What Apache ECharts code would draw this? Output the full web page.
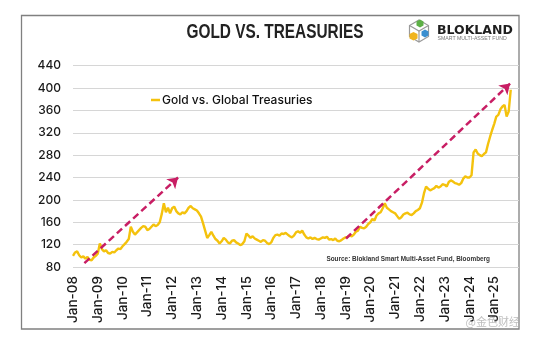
<!DOCTYPE html>
<html><head><meta charset="utf-8">
<script src="https://cdn.jsdelivr.net/npm/echarts@6/dist/echarts.min.js"></script>
<style>html,body{margin:0;padding:0;background:#fff}#c{width:533px;height:339px}</style>
</head><body><div id="c"></div>
<script>
const startYear = 2008;
const yearLabels = ['Jan-08','Jan-09','Jan-10','Jan-11','Jan-12','Jan-13','Jan-14','Jan-15','Jan-16','Jan-17','Jan-18','Jan-19','Jan-20','Jan-21','Jan-22','Jan-23','Jan-24','Jan-25'];
const yTicks = [80,120,160,200,240,280,320,360,400,440];
const seriesName = 'Gold vs. Global Treasuries';
// monthly values, Jan-2008 .. Sep-2025
const goldVsTreasuries = [
  100,106,108,101,97,99,95,98,93,92,97,100,
  104,122,112,108,110,105,104,107,106,110,113,112,
  117,121,125,130,152,143,138,142,146,150,153,152,
  146,148,152,156,153,155,160,175,194,178,186,176,
  185,188,180,176,174,178,176,180,186,189,185,183,
  181,176,170,158,145,132,137,143,136,130,127,122,
  126,132,129,124,122,127,128,124,122,119,121,126,
  140,136,132,135,131,129,127,125,128,127,123,121,
  124,132,137,138,136,140,139,141,138,135,133,136,
  142,144,141,145,138,133,131,133,130,132,130,129,
  131,133,132,134,129,130,128,131,127,126,128,131,
  133,134,136,135,138,143,145,152,150,149,152,157,
  160,166,163,172,176,178,185,194,186,183,180,178,
  176,171,166,169,174,176,177,174,173,176,180,182,
  185,195,212,224,220,217,219,221,225,222,224,228,
  227,224,232,235,233,230,229,227,230,238,242,240,
  240,244,285,290,283,280,278,282,285,300,313,325,
  336,349,352,362,367,370,349,358,397
];
const arrowStarts = [[2008.46, 87], [2019.02, 131]];
const arrowEnds = [[2012.24, 240], [2025.64, 408]];

const chart = echarts.init(document.getElementById('c'), null, {renderer:'canvas'});
const FONT = 'Inter';
chart.setOption({
  animation:false,
  backgroundColor:'#fff',
  grid:{left:73, right:14, top:65.7, bottom:72, containLabel:false},
  legend:{
    data:[seriesName], left:146, top:89, icon:'rect', itemWidth:9, itemHeight:2.5,
    textStyle:{fontFamily:FONT, fontSize:12, fontWeight:500, color:'#111', padding:[0,0,0,-3]}
  },
  xAxis:{
    type:'value', min:startYear, max:startYear+18, interval:1,
    axisLine:{show:false}, axisTick:{show:false}, splitLine:{show:false},
    axisLabel:{rotate:90, margin:9, fontFamily:FONT, fontSize:13.5, fontWeight:500, color:'#1a1a1a',
      showMaxLabel:false,
      formatter:v => yearLabels[Math.round(v - startYear)] || ''}
  },
  yAxis:{
    type:'value', min:yTicks[0], max:yTicks[yTicks.length-1], interval:40,
    axisLine:{show:false}, axisTick:{show:false},
    splitLine:{lineStyle:{color:'#d6d6d6', width:1}},
    axisLabel:{margin:12, fontFamily:FONT, fontSize:12, fontWeight:500, color:'#1a1a1a'}
  },
  series:[
    {
      name:seriesName, type:'line', showSymbol:false, symbol:'none', z:2,
      lineStyle:{color:'#F4C20D', width:2.4}, itemStyle:{color:'#F4C20D'},
      data: goldVsTreasuries.map((v,i)=>[startYear + i/12, v])
    },
    {
      type:'lines', coordinateSystem:'cartesian2d', silent:true, z:3,
      lineStyle:{color:'#C81E64', width:2.5, type:[7,4], opacity:1},
      symbol:['none','arrow'], symbolSize:10,
      data: arrowStarts.map((s,i)=>({coords:[s, arrowEnds[i]]}))
    }
  ],
  graphic:[
    {type:'rect', shape:{x:21.5, y:15.5, width:497.5, height:313.5}, style:{fill:'none', stroke:'#808080', lineWidth:1.3}, silent:true},
    {type:'text', x:275, y:32, scaleX:0.77, style:{text:'GOLD VS. TREASURIES', font:'bold 20px "Liberation Sans"', fill:'#222', align:'center', verticalAlign:'middle'}},
    {type:'polygon', shape:{points:[[419,20],[428.5,25.5],[428.5,36.5],[419,42],[409.5,36.5],[409.5,25.5]]}, style:{fill:'none', stroke:'#9a9a9a', lineWidth:1.2}},
    {type:'polyline', shape:{points:[[409.5,25.5],[419,31],[428.5,25.5]]}, style:{fill:'none', stroke:'#9a9a9a', lineWidth:1.2}},
    {type:'polyline', shape:{points:[[419,31],[419,42]]}, style:{fill:'none', stroke:'#9a9a9a', lineWidth:1.2}},
    {type:'polygon', shape:{points:[[420,19.5],[423.5,21.5],[423.5,25.5],[420,27.5],[416.5,25.5],[416.5,21.5]]}, style:{fill:'#5DB046'}},
    {type:'polygon', shape:{points:[[425,29.5],[428.5,31.5],[428.5,35.5],[425,37.5],[421.5,35.5],[421.5,31.5]]}, style:{fill:'#3A8FD0'}},
    {type:'polygon', shape:{points:[[413.5,32],[417.5,34],[417.5,38.5],[413.5,40.5],[409.5,38.5],[409.5,34]]}, style:{fill:'#F0B41E'}},
    {type:'text', x:437, y:30.5, style:{text:'BLOKLAND', font:'bold 12.5px "DejaVu Sans"', fill:'#1e1e1e', verticalAlign:'middle'}},
    {type:'text', x:437.5, y:38.8, style:{text:'SMART MULTI-ASSET FUND', font:'5.2px "Liberation Sans"', fill:'#777', verticalAlign:'middle'}},
    {type:'text', x:490, y:259, scaleX:0.8, style:{text:'Source: Blokland Smart Multi-Asset Fund, Bloomberg', font:'bold 8px "Liberation Sans"', fill:'#333', align:'right', verticalAlign:'middle'}},
    {type:'text', x:520, y:322, z:100, style:{text:'@金色财经', font:'11px "Noto Sans CJK SC"', fill:'rgba(170,170,170,0.75)', align:'right', verticalAlign:'middle'}}
  ]
});
</script></body></html>
